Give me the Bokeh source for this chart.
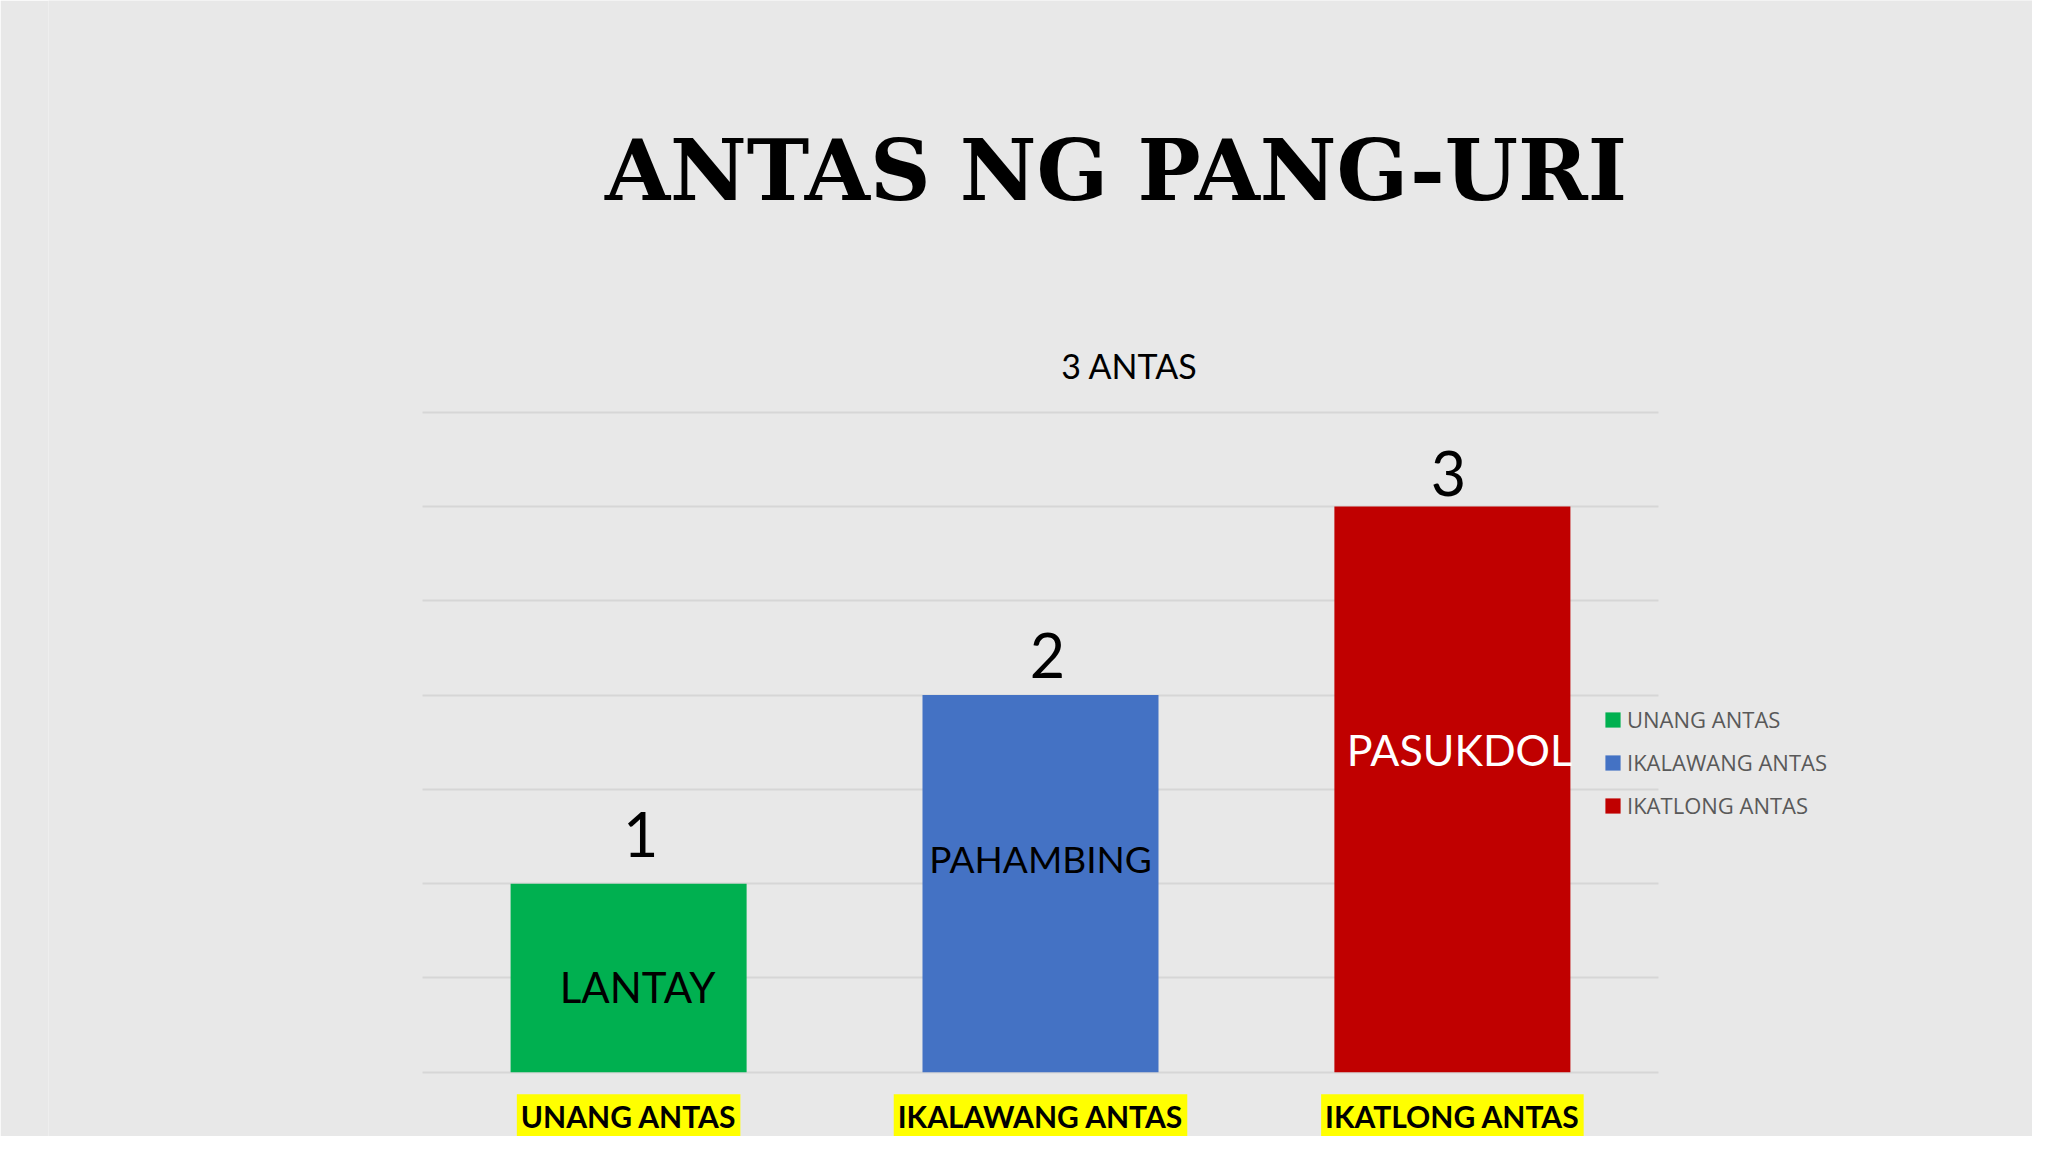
from bokeh.plotting import figure
from bokeh.models import ColumnDataSource, Range1d, FactorRange, FixedTicker, Label, Grid
from bokeh.core.properties import value
from bokeh.embed import file_html
from bokeh.resources import INLINE

# ---- data ----
categories = ["UNANG ANTAS", "IKALAWANG ANTAS", "IKATLONG ANTAS"]
values = [1, 2, 3]
bar_names = ["LANTAY", "PAHAMBING", "PASUKDOL"]
bar_colors = ["#00B050", "#4472C4", "#C00000"]
name_colors = ["black", "black", "white"]
grid_ticks = [0, 0.5, 1, 1.5, 2, 2.5, 3, 3.5]
title_text = "ANTAS NG PANG-URI"
subtitle_text = "3 ANTAS"

# ---- placement / style (not data) ----
name_y = [0.4526, 1.1314, 1.7113]
name_dx = [9, 0, 7]
name_sizes = ["42px", "37px", "43px"]
value_dx = [12, 7, -4]
value_dy = [-49, -40, -33]
BG = "#e8e8e8"

src = ColumnDataSource(dict(
    cat=categories, val=values, color=bar_colors,
    name=bar_names, ncolor=name_colors, ny=name_y, ndx=name_dx, nsize=name_sizes,
    vdx=value_dx, vdy=value_dy, label=[str(v) for v in values],
))

x_range = FactorRange(factors=categories, range_padding=0.9084,
                      range_padding_units="absolute")

p = figure(
    width=2032, height=1136,
    x_range=x_range, y_range=Range1d(-0.341, 5.6833),
    x_axis_location=None, y_axis_location=None,
    min_border_left=48, min_border_right=0, min_border_top=0, min_border_bottom=0,
    output_backend="svg", toolbar_location=None,
    background_fill_color=BG, border_fill_color=BG, outline_line_color=None,
)
# remove default grids
for g in list(p.grid):
    g.visible = False

grid = Grid(dimension=1, ticker=FixedTicker(ticks=grid_ticks), cross_bounds=(0, 3),
            grid_line_color="#d6d6d6", grid_line_width=2)
p.add_layout(grid)

p.vbar(x="cat", top="val", width=0.573, fill_color="color", line_color=None,
       legend_field="cat", source=src)

# value labels above bars
p.text(x="cat", y="val", text="label", x_offset="vdx", y_offset="vdy", source=src,
       text_align="center", text_baseline="middle",
       text_font=value("Lato"), text_font_size="61px", text_color="black")

# names inside bars
p.text(x="cat", y="ny", text="name", x_offset="ndx", source=src,
       text_align="center", text_baseline="middle",
       text_font=value("Lato"), text_font_size=dict(field="nsize"), text_color="ncolor")

# category labels with yellow highlight
p.text(x="cat", y=-0.234, text="cat", source=src,
       text_align="center", text_baseline="middle",
       text_font=value("Lato"), text_font_style="bold", text_font_size="30px",
       text_color="black", background_fill_color="#FFFF00", padding=4)

# title and subtitle
p.add_layout(Label(x=1067.5, y=4.78, x_units="screen", y_units="data",
                   text=title_text, text_align="center", text_baseline="middle",
                   text_font="DejaVu Serif", text_font_style="bold",
                   text_font_size="84px", text_color="black"))
p.add_layout(Label(x=1081, y=3.7477, x_units="screen", y_units="data",
                   text=subtitle_text, text_align="center", text_baseline="middle",
                   text_font="Lato", text_font_size="34px", text_color="black"))

lg = p.legend[0]
lg.location = (1555, 316)
lg.margin = 0
lg.padding = 0
lg.border_line_alpha = 0
lg.background_fill_alpha = 0
lg.glyph_width = 19
lg.glyph_height = 19
lg.label_height = 24
lg.label_standoff = 5
lg.spacing = 13
lg.label_text_font = "Open Sans"
lg.label_text_font_size = "22px"
lg.label_text_color = "#595959"

html = file_html(p, INLINE)
html = html.replace("<body>", '<body style="background-color:#e8e8e8;">', 1)
open("out.html", "w").write(html)
